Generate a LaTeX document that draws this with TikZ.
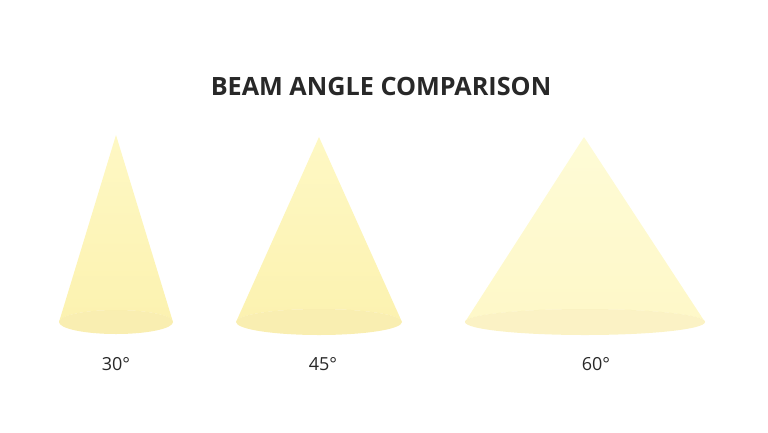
\documentclass[tikz,border=0pt]{standalone}
\usepackage{fontspec}
\setmainfont{Open Sans}
\definecolor{titlegray}{RGB}{40, 40, 40}
\definecolor{beamtop}{RGB}{254, 248, 196}
\definecolor{beambot}{RGB}{252, 242, 176}
\definecolor{palepeak}{RGB}{254, 251, 214}
\definecolor{beampale}{RGB}{254, 248, 200}
\definecolor{basegold}{RGB}{248, 234, 158}
\usetikzlibrary{positioning}

\begin{document}
\begin{tikzpicture}[x=1pt, y=-1pt,
  beam/.style={top color=beamtop, bottom color=beambot, draw=none},
  widebeam/.style={top color=palepeak, bottom color=beampale, draw=none},
  beambase/.style={fill=basegold, draw=none, opacity=0.8},
  anglelabel/.style={font=\fontsize{18}{20}\selectfont, text=titlegray, inner sep=0pt}]
  \useasboundingbox (0,0) rectangle (768,432);

  % Title
  \node[font=\bfseries\fontsize{25.2}{28}\selectfont, text=titlegray, inner sep=0pt] (title) at (381, 86) {BEAM ANGLE COMPARISON};

  % 30 degree beam
  \path[beam] (116,135) -- (59,322) arc[start angle=180, end angle=360, x radius=57, y radius=12] -- cycle;
  \path[beambase] (116,322) ellipse[x radius=57, y radius=12];
  \node[anglelabel] (a30) at (116, 364) {30°};

  % 45 degree beam
  \path[beam] (319,137) -- (236,322) arc[start angle=180, end angle=360, x radius=83, y radius=13] -- cycle;
  \path[beambase] (319,322) ellipse[x radius=83, y radius=13];
  \node[anglelabel] (a45) at (323, 364) {45°};

  % 60 degree beam
  \path[widebeam] (584,137) -- (465,322) arc[start angle=180, end angle=360, x radius=120, y radius=13] -- cycle;
  \path[beambase, opacity=0.6] (585,322) ellipse[x radius=120, y radius=13];
  \node[anglelabel] (a60) at (596, 364) {60°};
\end{tikzpicture}
\end{document}
